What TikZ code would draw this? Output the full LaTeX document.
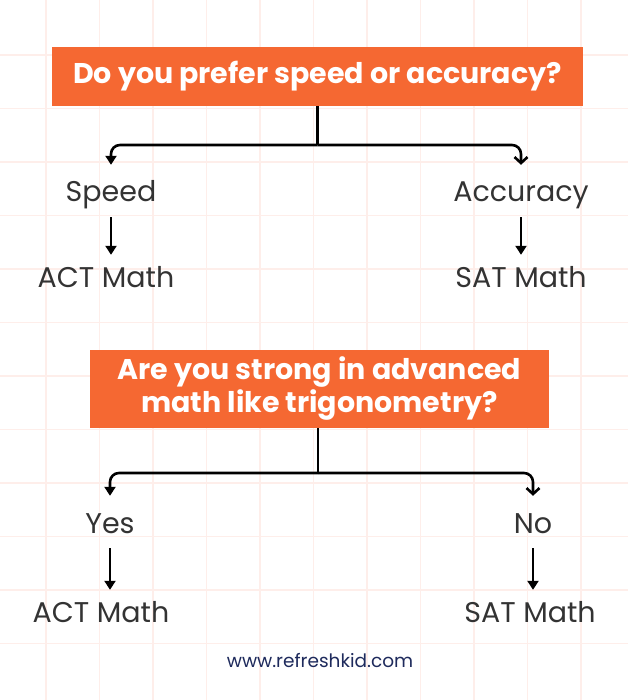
\documentclass[tikz,border=0pt]{standalone}
\usepackage{fontspec}
\setmainfont{Poppins}
\definecolor{rkorange}{RGB}{245,104,50}
\definecolor{rkgrid}{RGB}{254,238,234}
\definecolor{rktext}{RGB}{51,51,51}
\definecolor{rknavy}{RGB}{30,42,92}
\usetikzlibrary{arrows.meta,positioning}

\begin{document}
\begin{tikzpicture}[x=1pt,y=-1pt,
  rkq/.style={fill=rkorange,text=white,align=center,inner sep=0pt,
    font=\fontsize{28.5}{33}\selectfont\bfseries},
  rklbl/.style={text=rktext,inner sep=0pt,anchor=base,text height=20pt,text depth=6pt,
    font=\fontsize{28.5}{32}\selectfont},
  rkbranch/.style={line width=2.6pt,rounded corners=9pt,shorten >=17pt},
  rkdown/.style={line width=2.6pt,-{Triangle[length=9pt,width=11pt]},shorten <=9pt,shorten >=12pt}
]
  \useasboundingbox (0,0) rectangle (628,700);
  \fill[white] (0,0) rectangle (628,700);

  % Background grid
  \foreach \gx in {46,99.5,...,583}
    \draw[rkgrid,line width=1.3pt] (\gx,0) -- (\gx,700);
  \foreach \gy in {55,108.5,...,645}
    \draw[rkgrid,line width=1.3pt] (0,\gy) -- (628,\gy);

  % First question
  \node[rkq,minimum width=531pt,minimum height=59pt] (qspeed) at (317.5,76.5)
    {Do you prefer speed or accuracy?};
  \node[rklbl] (speed) at (111,202) {Speed};
  \node[rklbl] (accuracy) at (521,202) {Accuracy};
  \node[rklbl] (actone) at (106,287) {ACT Math};
  \node[rklbl] (satone) at (521,287) {SAT Math};
  \coordinate (splitA) at (317.5,145);

  \draw[line width=2.6pt] (qspeed.south) -- (splitA);
  \draw[rkbranch,-{Triangle[length=9pt,width=11pt]}] (splitA) -| (speed.north);
  \draw[rkbranch,-{Straight Barb[length=6pt,width=13pt]}] (splitA) -| (accuracy.north);
  \draw[rkdown] (speed.south) -- (speed.south |- actone.north);
  \draw[rkdown] (accuracy.south) -- (satone.north);

  % Second question
  \node[rkq,minimum width=459pt,minimum height=78pt] (qtrig) at (319.5,389)
    {Are you strong in advanced\\math like trigonometry?};
  \node[rklbl] (yes) at (110,533) {Yes};
  \node[rklbl] (no) at (533,533) {No};
  \node[rklbl] (acttwo) at (101,622) {ACT Math};
  \node[rklbl] (sattwo) at (530,622) {SAT Math};
  \coordinate (splitB) at (318,473);

  \draw[line width=2.6pt] (qtrig.south -| splitB) -- (splitB);
  \draw[rkbranch,-{Triangle[length=9pt,width=11pt]}] (splitB) -| (yes.north);
  \draw[rkbranch,-{Straight Barb[length=6pt,width=13pt]}] (splitB) -| (no.north);
  \draw[rkdown] (yes.south) -- (yes.south |- acttwo.north);
  \draw[rkdown] (no.south) -- (no.south |- sattwo.north);

  % Footer
  \node[anchor=base,inner sep=0pt,text=rknavy,font=\fontsize{18.5}{22}\selectfont]
    (site) at (320,667) {www.refreshkid.com};
\end{tikzpicture}
\end{document}
